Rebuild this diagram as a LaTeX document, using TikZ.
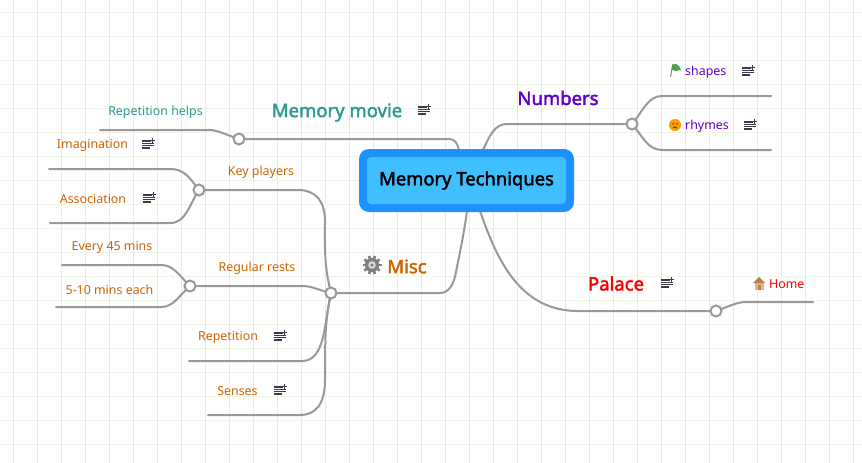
\documentclass[tikz,border=0pt]{standalone}
\usepackage{fontspec}
\setmainfont{Noto Sans}
\newfontfamily\boldf{Noto Sans}[FakeBold=2.2]
\definecolor{linegrey}{HTML}{999999}
\definecolor{gridv}{HTML}{E8ECDF}
\definecolor{gridh}{HTML}{EFF6E4}
\definecolor{boxout}{HTML}{1E90FF}
\definecolor{boxin}{HTML}{40BFFF}
\definecolor{teal1}{HTML}{2E9A94}
\definecolor{purple1}{HTML}{6100C9}
\definecolor{orange1}{HTML}{CF6300}
\definecolor{iconc}{HTML}{3A3A48}
\tikzset{
  conn/.style={draw=linegrey,line width=2pt,line cap=round},
  junction/.style={circle,draw=linegrey,fill=white,line width=2pt,minimum size=11pt,inner sep=0pt},
  mainlbl/.style={font=\boldf\fontsize{18.5}{20}\selectfont,inner sep=0pt},
  sublbl/.style={font=\fontsize{12.4}{14}\selectfont,inner sep=0pt},
  notes/.pic={
    \fill[iconc] (-6.5,-3.6) rectangle (2.6,-2.2);
    \fill[iconc] (-6.5,-1.1) rectangle (5.8,0.2);
    \fill[iconc] (-6.5,1.4) rectangle (6.3,2.4);
    \fill[iconc] (-6.5,3.4) rectangle (1.8,5.3);
    \fill[iconc] (2.4,-4) rectangle (7.2,-2.8);
    \fill[iconc] (4.2,-6) rectangle (5.4,-1.2);
  }
}
\begin{document}
\begin{tikzpicture}[x=1pt,y=-1pt]
\useasboundingbox (0,0) rectangle (862,463);
\fill[white] (0,0) rectangle (862,463);
\foreach \g in {12,36,...,460} \draw[gridh,line width=1pt] (0,\g) -- (862,\g);
\foreach \g in {13,37,...,860} \draw[gridv,line width=1pt] (\g,0) -- (\g,463);

% end points
\coordinate (rh) at (100,130);
\coordinate (im) at (49,169);
\coordinate (as) at (50,223);
\coordinate (ev) at (62,265);
\coordinate (fi) at (56,307);
\coordinate (rp) at (189,361);
\coordinate (se) at (208,415);
\coordinate (sh) at (771,96);
\coordinate (rm) at (771,150);
\coordinate (ho) at (813,302);
\coordinate (cmm) at (459,150);
\coordinate (cnu) at (483,150);
\coordinate (cmi) at (467,211);
\coordinate (cpa) at (480,211);
\coordinate (jmm) at (239,139);
\coordinate (jnu) at (632,124);
\coordinate (jmi) at (331,293);
\coordinate (jpa) at (716,311);
\coordinate (jkp) at (199,190);
\coordinate (jrr) at (190,286);

% connectors
\draw[conn] (cmm) .. controls (457,143) and (455,139) .. (449,139) -- (jmm);
\draw[conn] (jmm) .. controls (224,134) and (217,130) .. (209,130) -- (rh);
\draw[conn] (cnu) .. controls (490,135) and (495,124) .. (507,124) -- (jnu);
\draw[conn] (jnu) .. controls (643,111) and (648,96) .. (662,96) -- (sh);
\draw[conn] (jnu) .. controls (643,137) and (648,150) .. (662,150) -- (rm);
\draw[conn] (cmi) .. controls (463,240) and (459,256) .. (456,272) .. controls (454,284) and (449,293) .. (440,293) -- (jmi);
\draw[conn] (cpa) .. controls (497,260) and (520,311) .. (578,311) -- (jpa);
\draw[conn] (jpa) .. controls (728,307) and (736,302) .. (746,302) -- (ho);
\draw[conn] (jmi) .. controls (324,265) and (325,250) .. (325,222) .. controls (325,200) and (315,190) .. (298,190) -- (jkp);
\draw[conn] (jmi) .. controls (318,290) and (312,286) .. (302,286) -- (jrr);
\draw[conn] (jmi) .. controls (324,325) and (325,361) .. (302,361) -- (rp);
\draw[conn] (jmi) .. controls (325,320) and (325,340) .. (325,380) .. controls (325,405) and (315,415) .. (300,415) -- (se);
\draw[conn] (jkp) .. controls (189,177) and (184,169) .. (170,169) -- (im);
\draw[conn] (jkp) .. controls (189,205) and (186,223) .. (170,223) -- (as);
\draw[conn] (jrr) .. controls (178,274) and (173,265) .. (161,265) -- (ev);
\draw[conn] (jrr) .. controls (178,297) and (173,307) .. (161,307) -- (fi);

% junctions on top
\node[junction] (njmm) at (jmm) {};
\node[junction] (njnu) at (jnu) {};
\node[junction] (njmi) at (jmi) {};
\node[junction] (njpa) at (jpa) {};
\node[junction] (njkp) at (jkp) {};
\node[junction] (njrr) at (jrr) {};

% centre
\node[fill=boxout,rounded corners=10pt,minimum width=215pt,minimum height=63pt,inner sep=0pt] (root) at (466.5,180.5) {};
\node[fill=boxin,rounded corners=4pt,minimum width=199pt,minimum height=47pt,inner sep=0pt,font=\boldf\fontsize{18.4}{20}\selectfont,text=black] (rootin) at (466.5,180.5) {Memory Techniques};

% main labels
\node[mainlbl,text=teal1] (mm) at (337,112.5) {Memory movie};
\node[mainlbl,text=purple1] (nu) at (558,98) {Numbers};
\node[mainlbl,text=orange1] (mi) at (407,266.5) {Misc};
\node[mainlbl,text=red] (pa) at (616,283.5) {Palace};

% sub labels
\node[sublbl,text=teal1] (trh) at (155.5,112.5) {Repetition helps};
\node[sublbl,text=orange1] (tim) at (92.5,145.5) {Imagination};
\node[sublbl,text=orange1] (tas) at (93,199) {Association};
\node[sublbl,text=orange1] (tkp) at (261,172.5) {Key players};
\node[sublbl,text=orange1] (tev) at (112,247.5) {Every 45 mins};
\node[sublbl,text=orange1] (tfi) at (109.5,289.5) {5-10 mins each};
\node[sublbl,text=orange1] (trr) at (257,268.5) {Regular rests};
\node[sublbl,text=orange1] (trp) at (228,337.5) {Repetition};
\node[sublbl,text=orange1] (tse) at (237.5,391.5) {Senses};
\node[sublbl,text=purple1,anchor=west] (tsh) at (685,72.5) {shapes};
\node[sublbl,text=purple1,anchor=west] (trm) at (685,126.5) {rhymes};
\node[sublbl,text=red,anchor=west] (tho) at (769,284) {Home};

% note icons
\pic at (424,110) {notes};
\pic at (148,144) {notes};
\pic at (149,198) {notes};
\pic at (280,336) {notes};
\pic at (280,390) {notes};
\pic at (748,71) {notes};
\pic at (750,125) {notes};
\pic at (667,283) {notes};

% flag icon
\draw[gray,line width=1pt] (670.5,76.5) -- (673,64);
\fill[green!50!black!70!white] (672.5,64.5) -- (676,64) -- (679,66) -- (681,70) -- (675.5,71) -- (671.5,69.5) -- cycle;
% face icon
\fill[orange!80!yellow] (675,125) circle (6);
\fill[black!75] (673,123.8) circle (0.8) (677,123.8) circle (0.8);
\draw[black!75,line width=0.8pt] (673,128) .. controls (674.3,126.6) and (675.7,126.6) .. (677,128);
% gear icon
\fill[gray] (372,265) circle (7.2);
\foreach \a in {0,36,...,324}
  \draw[gray,line width=2.6pt] (372,265) ++(\a:6) -- ++(\a:3.5);
\fill[gray!30] (372,265) circle (3.8);
\fill[black!55] (372,265) circle (1.6);
% house icon
\fill[orange!30!white!85!black] (755,282) rectangle (763.5,289.5);
\fill[black!35!orange!75] (753,283) -- (759,277) -- (765,283) -- cycle;
\fill[brown] (758,285) rectangle (760.5,289.5);
\end{tikzpicture}
\end{document}
